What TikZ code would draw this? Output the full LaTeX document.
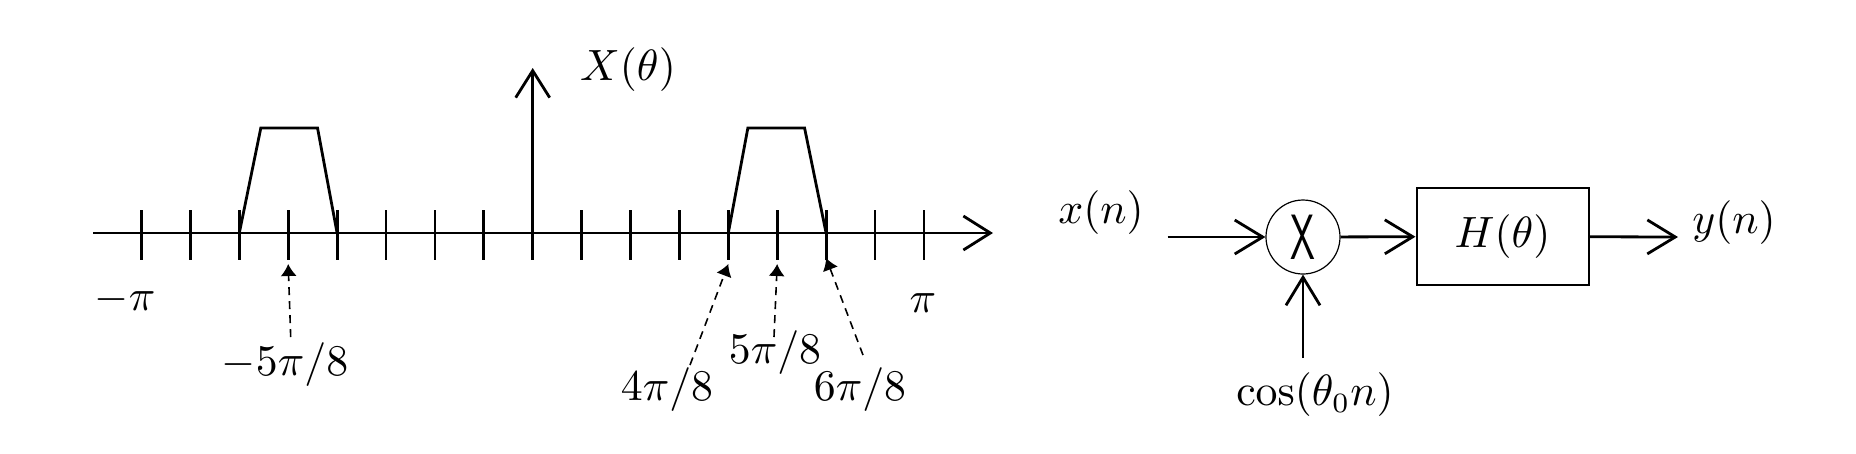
\documentclass[tikz,border=0pt]{standalone}
\usepackage{tikz}
\usetikzlibrary{arrows.meta, positioning}
\tikzset{
  axis/.style={
    line width=0.7pt,
    -{Straight Barb[length=6.75pt, width=8.5pt]}
  },
  tick/.style={line width=0.7pt},
  band/.style={line width=0.7pt, line join=miter},
  pointer/.style={
    line width=0.4pt, dash pattern=on 2pt off 1.5pt,
    -{Latex[length=3pt, width=4pt]}
  },
  txt/.style={font=\fontsize{10.5}{12}\selectfont, inner sep=0pt},
  signal/.style={
    line width=0.7pt,
    -{Straight Barb[length=7pt, width=8.5pt]}
  },
  mult/.style={circle, draw, line width=0.3pt, minimum size=18.5pt, inner sep=0pt},
  filter/.style={
    rectangle, draw, line width=0.5pt,
    minimum width=43pt, minimum height=24.25pt,
    font=\fontsize{11}{12}\selectfont
  }
}

\begin{document}
\begin{tikzpicture}[x=0.25pt, y=-0.25pt]
  \useasboundingbox (0,0) rectangle (1856,453);
  % spectrum X(theta)
  \coordinate (o) at (532.7,233);
  \coordinate (xa) at (93,233);
  \coordinate (xb) at (993,233);
  \coordinate (ya) at (532.7,68);
  \draw[axis] (xa) -- (xb);
  \draw[axis] (o) -- (ya);
  \foreach \k in {-8,...,8} {
    \draw[tick] ({532.7+48.9*\k},210) -- ({532.7+48.9*\k},260);
    \coordinate (tk\k) at ({532.7+48.9*\k},264);
  }
  \draw[band] ({532.7-48.9*6},233) -- ({532.7-48.9*5.56},128)
    -- ({532.7-48.9*4.4},128) -- ({532.7-48.9*4},233);
  \draw[band] ({532.7+48.9*4},233) -- ({532.7+48.9*4.4},128)
    -- ({532.7+48.9*5.56},128) -- ({532.7+48.9*6},233);
  \node[txt] (xth) at (628,70) {$X(\theta)$};
  \node[txt] (mpi) at (125,300) {$-\pi$};
  \node[txt] (ppi) at (923,303) {$\pi$};
  % frequency markers
  \node[txt] (m5) at (285,365) {$-5\pi/8$};
  \node[txt] (p4) at (667,390) {$4\pi/8$};
  \node[txt] (p5) at (775,353) {$5\pi/8$};
  \node[txt] (p6) at (860,390) {$6\pi/8$};
  \coordinate (sm5) at (290.7,337);
  \coordinate (sp4) at (690,365);
  \coordinate (sp5) at (774,337);
  \coordinate (sp6) at (863,355);
  \draw[pointer] (sm5) -- (tk-5);
  \draw[pointer] (sp4) -- (tk4);
  \draw[pointer] (sp5) -- (tk5);
  \draw[pointer] (sp6) -- ([yshift=1.5pt]tk6);
  % modulator and filter
  \node[txt] (xn) at (1101,213) {$x(n)$};
  \coordinate (in) at (1167.6,237);
  \node[mult] (mix) at (1303,237) {\scalebox{0.62}[1]{\fontsize{16}{16}\selectfont\sffamily X}};
  \node[filter] (h) at (1502.5,236.5) {$H(\theta)$};
  \coordinate (out) at (1678,237);
  \node[txt] (yn) at (1734,223) {$y(n)$};
  \coordinate (lo) at (1303,358);
  \node[txt] (cosn) at (1315,395) {$\cos(\theta_0 n)$};
  \draw[signal] (in) -- (mix);
  \draw[signal] (mix) -- (h);
  \draw[signal] (h) -- (out);
  \draw[signal] (lo) -- (mix);
\end{tikzpicture}
\end{document}
